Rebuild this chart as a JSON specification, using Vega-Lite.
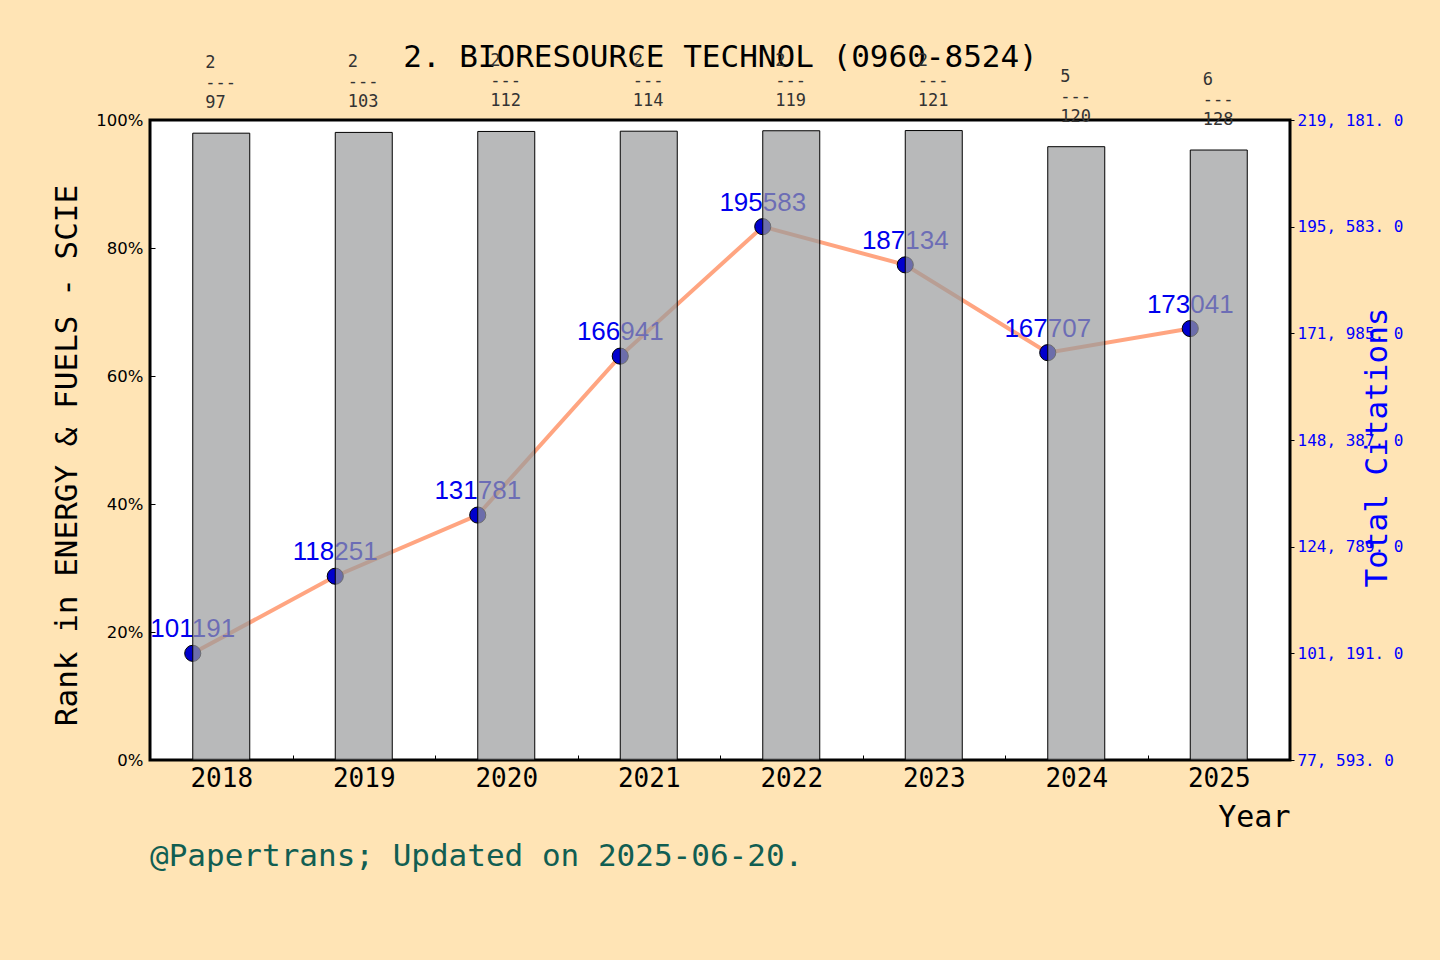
{
  "$schema": "https://vega.github.io/schema/vega-lite/v6.json",
  "width": 1140,
  "height": 640,
  "autosize": {"type": "none"},
  "padding": {"left": 150, "top": 120, "right": 150, "bottom": 200},
  "background": "#FFE4B5",
  "config": {"view": {"fill": "white", "stroke": "black", "strokeWidth": 3}},
  "title": {
    "text": "@Papertrans; Updated on 2025-06-20.",
    "orient": "bottom",
    "anchor": "start",
    "frame": "group",
    "font": "DejaVu Sans Mono",
    "fontSize": 31,
    "fontWeight": "normal",
    "color": "#115e52",
    "offset": 10
  },
  "data": {
    "values": [
      {"year": 2018, "pct": 0.9794, "rank_label": "2\n---\n97", "citations": 101191},
      {"year": 2019, "pct": 0.9806, "rank_label": "2\n---\n103", "citations": 118251},
      {"year": 2020, "pct": 0.9821, "rank_label": "2\n---\n112", "citations": 131781},
      {"year": 2021, "pct": 0.9825, "rank_label": "2\n---\n114", "citations": 166941},
      {"year": 2022, "pct": 0.9832, "rank_label": "2\n---\n119", "citations": 195583},
      {"year": 2023, "pct": 0.9835, "rank_label": "2\n---\n121", "citations": 187134},
      {"year": 2024, "pct": 0.9583, "rank_label": "5\n---\n120", "citations": 167707},
      {"year": 2025, "pct": 0.9531, "rank_label": "6\n---\n128", "citations": 173041}
    ]
  },
  "layer": [
    {
      "encoding": {
        "x": {
          "field": "year",
          "type": "ordinal",
          "bandPosition": 0,
          "scale": {"paddingInner": 0.6, "paddingOuter": 0.3},
          "axis": {
            "orient": "bottom",
            "title": "Year",
            "labelAngle": 0,
            "labelFont": "DejaVu Sans Mono",
            "labelFontSize": 26,
            "labelColor": "black",
            "labelPadding": 10,
            "bandPosition": 0.5,
            "tickOffset": -71.25,
            "labelOffset": 71.25,
            "tickSize": -5,
            "tickWidth": 1,
            "tickColor": "black",
            "domain": false,
            "titleFont": "DejaVu Sans Mono",
            "titleFontSize": 30,
            "titleFontWeight": "normal",
            "titleColor": "black",
            "titleX": 1140,
            "titleY": 57,
            "titleAlign": "right",
            "titleBaseline": "middle"
          }
        },
        "y": {
          "field": "citations",
          "type": "quantitative",
          "scale": {"domain": [77593, 219181], "nice": false, "zero": false},
          "axis": {
            "orient": "right",
            "values": [77593, 101191, 124789, 148387, 171985, 195583, 219181],
            "labelExpr": "replace(replace(format(datum.value, ',.1f'), ',', ', '), '.', '. ')",
            "labelFont": "DejaVu Sans Mono",
            "labelFontSize": 16,
            "labelColor": "blue",
            "tickColor": "black",
            "tickSize": 4,
            "labelPadding": 3,
            "domain": false,
            "grid": false,
            "title": "Total Citations",
            "titleColor": "blue",
            "titleFont": "DejaVu Sans Mono",
            "titleFontSize": 31,
            "titleFontWeight": "normal",
            "titleAngle": 270,
            "titleX": 87,
            "titleY": 327,
            "titleAlign": "center",
            "titleBaseline": "middle"
          }
        }
      },
      "layer": [
        {"mark": {"type": "line", "color": "#FFA07A", "strokeWidth": 4, "opacity": 0.95}},
        {"mark": {"type": "point", "filled": true, "fill": "#0000CD", "stroke": "black", "strokeWidth": 1, "size": 260, "opacity": 1}},
        {
          "mark": {"type": "text", "font": "Liberation Sans", "fontSize": 26, "color": "#0000EE", "baseline": "alphabetic", "dy": -16},
          "encoding": {"text": {"field": "citations", "type": "quantitative", "format": "d"}}
        }
      ]
    },
    {
      "encoding": {
        "x": {
          "field": "year",
          "type": "ordinal",
          "axis": {
            "orient": "top",
            "title": "2. BIORESOURCE TECHNOL (0960-8524)",
            "labels": false,
            "ticks": false,
            "domain": false,
            "titleFont": "DejaVu Sans Mono",
            "titleFontSize": 31,
            "titleFontWeight": "normal",
            "titleColor": "black",
            "titleX": 570,
            "titleY": -63,
            "titleAlign": "center",
            "titleBaseline": "middle"
          }
        },
        "y": {
          "field": "pct",
          "type": "quantitative",
          "scale": {"domain": [0, 1], "nice": false},
          "axis": {
            "orient": "left",
            "values": [0, 0.2, 0.4, 0.6, 0.8, 1],
            "format": ".0%",
            "labelFont": "DejaVu Sans",
            "labelFontSize": 16.5,
            "labelColor": "black",
            "tickColor": "black",
            "tickSize": -5,
            "labelPadding": 12,
            "domain": false,
            "grid": false,
            "title": "Rank in ENERGY & FUELS - SCIE",
            "titleColor": "black",
            "titleFont": "DejaVu Sans Mono",
            "titleFontSize": 31,
            "titleFontWeight": "normal",
            "titleAngle": 270,
            "titleX": -83,
            "titleY": 335,
            "titleAlign": "center",
            "titleBaseline": "middle"
          }
        }
      },
      "layer": [
        {"mark": {"type": "bar", "fill": "#9a9b9c", "fillOpacity": 0.7, "stroke": "black", "strokeWidth": 1}},
        {
          "mark": {"type": "text", "font": "DejaVu Sans Mono", "fontSize": 17, "color": "#333333", "align": "left", "baseline": "bottom", "lineBreak": "\n", "lineHeight": 20, "dx": -16, "dy": -61},
          "encoding": {"text": {"field": "rank_label", "type": "nominal"}}
        }
      ]
    }
  ],
  "resolve": {
    "scale": {"y": "independent"},
    "axis": {"x": "independent", "y": "independent"}
  }
}
